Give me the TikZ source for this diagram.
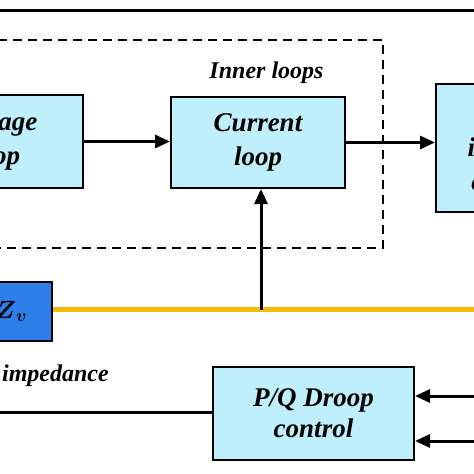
\documentclass[tikz,border=0pt]{standalone}
\usepackage{amsmath}
\usepackage{fontspec}
\setmainfont{Liberation Serif}
\usetikzlibrary{arrows.meta,calc}
\definecolor{boxfill}{RGB}{190,239,250}
\definecolor{zvblue}{RGB}{45,125,235}
\definecolor{lineyellow}{RGB}{245,185,10}
\newcommand{\zvtext}{$\boldsymbol{Z}_{\boldsymbol{v}}$}
\begin{document}
\begin{tikzpicture}[x=1pt,y=-1pt,
  blockbox/.style={draw=black,line width=2pt,fill=boxfill,align=center,inner sep=0pt,
    font=\fontsize{27}{34}\selectfont\bfseries\itshape},
  droopfont/.style={font=\fontsize{27}{31}\selectfont\bfseries\itshape},
  zvbox/.style={draw=black,line width=2pt,fill=zvblue,inner sep=0pt,font=\fontsize{26}{30}\selectfont},
  conn/.style={line width=3pt,draw=black},
  arr/.style={conn,-{Triangle[length=15pt,width=13pt]}},
  lbl/.style={font=\fontsize{24}{28}\selectfont\bfseries\itshape,inner sep=0pt}]
\useasboundingbox (0,0) rectangle (474,474);
\clip (0,0) rectangle (474,474);
% top line
\coordinate (tl) at (0,10);
\coordinate (tr) at (474,10);
\draw[conn] (tl) -- (tr);
% dashed inner-loop frame
\draw[line width=2.4pt,dash pattern=on 9pt off 6pt] (-100,40) rectangle (383,248);
\node[lbl,anchor=base] (inner) at (266.5,78) {Inner loops};
% blocks
\node[blockbox,minimum width=174pt,minimum height=93pt] (volt) at (-4,141.5) {Voltage\\loop};
\node[blockbox,minimum width=174pt,minimum height=91pt] (cur) at (258,142.5) {Current\\loop};
\node[blockbox,minimum width=150pt,minimum height=128pt] (pwm) at (511,148) {PWM\\inverter\\control};
\node[blockbox,droopfont,minimum width=201pt,minimum height=93pt] (droop) at (313.5,413.5) {P/Q Droop\\control};
\node[zvbox,minimum width=82pt,minimum height=59pt] (zv) at (11,311.5) {\zvtext};
\node[lbl,anchor=base east] (vi) at (109,381) {Virtual impedance};
% connectors
\draw[arr] (volt.east) -- (volt.east -| cur.west);
\draw[arr] (cur.east) -- (cur.east -| pwm.west);
\coordinate (yr) at (474,309.5);
\draw[line width=5pt,draw=lineyellow] (zv.east |- yr) -- (yr);
\coordinate (tap) at (261,309.5);
\draw[arr] (tap) -- (tap |- cur.south);
\coordinate (dl) at (0,412);
\draw[conn] (droop.west |- dl) -- (dl);
\coordinate (in1) at (474,396);
\coordinate (in2) at (474,441);
\draw[arr] (in1) -- (in1 -| droop.east);
\draw[arr] (in2) -- (in2 -| droop.east);
\end{tikzpicture}
\end{document}
